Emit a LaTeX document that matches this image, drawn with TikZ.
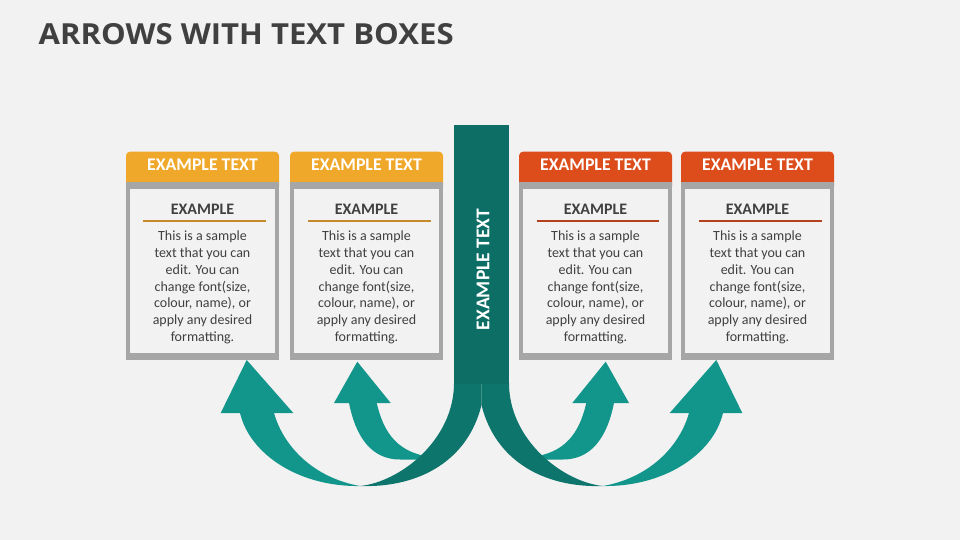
\documentclass[tikz,border=0pt]{standalone}
\usepackage{fontspec}
\usepackage{graphicx}
\setmainfont{Carlito}
\newfontfamily\titlefont{Open Sans}
\definecolor{bg}{HTML}{F2F2F2}
\definecolor{titlec}{HTML}{404040}
\definecolor{textc}{HTML}{404040}
\definecolor{gold}{HTML}{F0A82A}
\definecolor{goldline}{HTML}{C48A2C}
\definecolor{redh}{HTML}{DC4D1B}
\definecolor{redline}{HTML}{B3431E}
\definecolor{framegray}{HTML}{A6A6A6}
\definecolor{bardark}{HTML}{0D6E66}
\definecolor{legc}{HTML}{0E756C}
\definecolor{arrc}{HTML}{12958B}
\tikzset{
  hdrtext/.style={anchor=base, inner sep=0, text=white, font=\bfseries\fontsize{17.8}{21}\selectfont},
  subtext/.style={anchor=base, inner sep=0, text=textc, font=\bfseries\fontsize{16}{19}\selectfont},
  bodytext/.style={anchor=center, inner sep=0, text=textc, align=center, font=\fontsize{14}{16.8}\selectfont},
  arrowfill/.style={fill=arrc},
  legfill/.style={fill=legc},
}
\newcommand\tbox[7]{%
  \fill[#3, rounded corners=4pt] (#1,151.7) rectangle (#2,190);
  \fill[framegray] (#1,182) rectangle (#2,360);
  \fill[bg] ({#1+4.3},189.2) rectangle ({#2-4.3},352.8);
  \draw[#4, line width=1.1pt] (#5,221) -- (#6,221);
  \node[hdrtext] (#7h) at ({(#1+#2)/2},171) {EXAMPLE TEXT};
  \node[subtext] (#7s) at ({(#1+#2)/2},214) {EXAMPLE};
  \node[bodytext] (#7b) at ({(#1+#2)/2},287.4) {This is a sample\\text that you can\\edit. You can\\change font(size,\\colour, name), or\\apply any desired\\formatting.};
}
\newcommand\sideshapes{%
  % big arrow
  \fill[arrowfill] (246.7,360) -- (293.3,413) -- (274,413)
     .. controls (284,448) and (315,478) .. (360,486)
     .. controls (300,487) and (250,455) .. (240,413)
     -- (220.7,413) -- cycle;
  % small arrow
  \fill[arrowfill] (357.3,361.7) -- (390.7,403) -- (376.7,403)
     .. controls (383,430) and (395,450) .. (425,456)
     -- (425,459.5) -- (400,459.5)
     .. controls (372,459.5) and (356,438) .. (349,403)
     -- (334,403) -- cycle;
  % leg of the central bar
  \fill[legfill] (454,383) -- (481.5,383) -- (481.5,405)
     .. controls (468,460) and (420,488) .. (360,486)
     .. controls (400,482) and (454,440) .. (454,383) -- cycle;
}
\begin{document}
\begin{tikzpicture}[x=1pt,y=-1pt]
\useasboundingbox (0,0) rectangle (960,540);
\fill[bg] (0,0) rectangle (960,540);
\node[anchor=base west, inner sep=0, text=titlec, font=\titlefont\bfseries\fontsize{29}{34}\selectfont] (title) at (38.5,45) {\scalebox{1.072}[1]{ARROWS WITH TEXT BOXES}};

\sideshapes
\begin{scope}[shift={(963,0)}, xscale=-1]
\sideshapes
\end{scope}
\fill[bardark] (454,125) rectangle (509,383.5);
\node[rotate=90, anchor=base, inner sep=0, text=white, font=\bfseries\fontsize{19.5}{23}\selectfont] (vt) at (489.3,269.5) {EXAMPLE TEXT};

\tbox{126}{279}{gold}{goldline}{143.3}{266}{b1}
\tbox{290}{443}{gold}{goldline}{308.3}{431}{b2}
\tbox{519}{672}{redh}{redline}{536.7}{659.3}{b3}
\tbox{681}{834}{redh}{redline}{699.3}{822.3}{b4}
\end{tikzpicture}
\end{document}
